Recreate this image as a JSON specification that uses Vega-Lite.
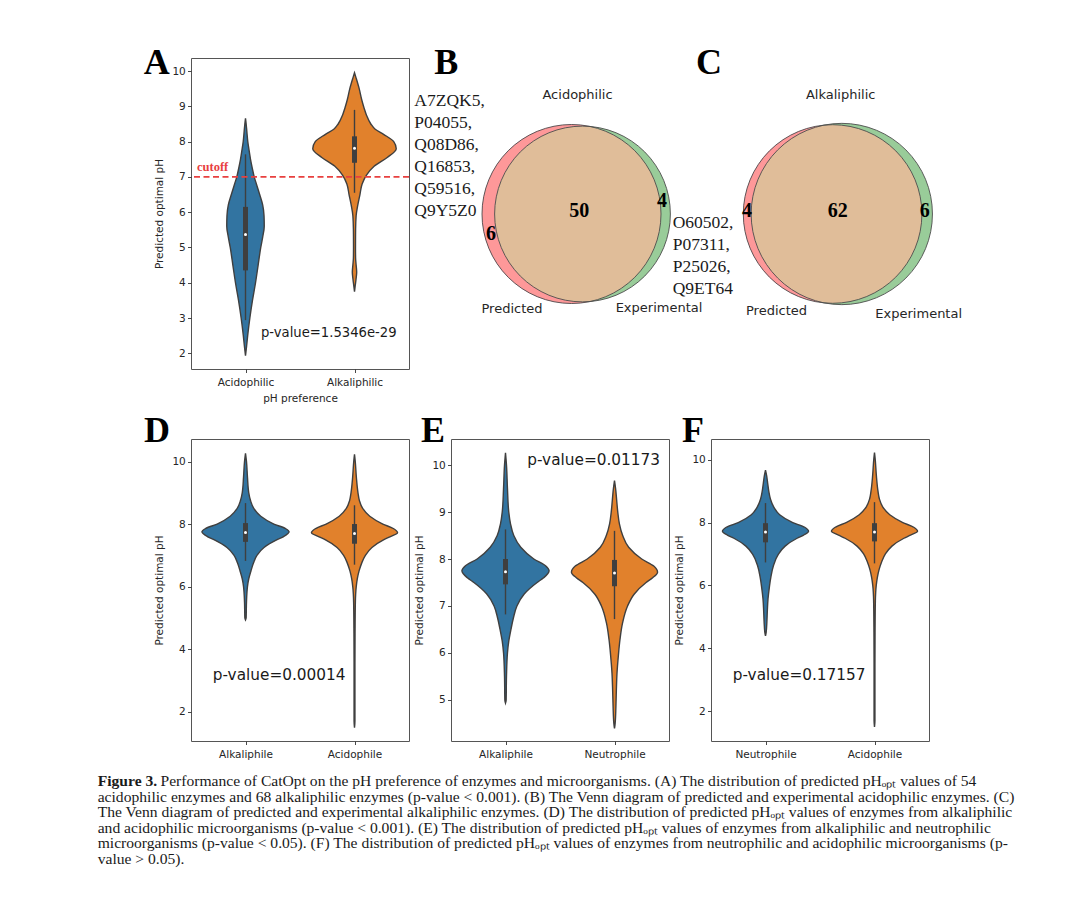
{
  "$schema": "https://vega.github.io/schema/vega-lite/v6.json",
  "background": "white",
  "padding": {"left": 97, "top": 44, "right": 5, "bottom": 5},
  "columns": 3,
  "spacing": {"row": 70, "column": 42},
  "bounds": "flush",
  "resolve": {"scale": {"size": "independent"}},
  "datasets": {
    "acA": [{"ph":1.93,"w":0},{"ph":2.2,"w":0.01},{"ph":2.5,"w":0.02},{"ph":3.0,"w":0.04},{"ph":3.5,"w":0.064},{"ph":4.0,"w":0.092},{"ph":4.5,"w":0.116},{"ph":5.0,"w":0.14},{"ph":5.3,"w":0.158},{"ph":5.6,"w":0.172},{"ph":5.9,"w":0.17},{"ph":6.2,"w":0.158},{"ph":6.5,"w":0.13},{"ph":6.8,"w":0.1},{"ph":7.0,"w":0.08},{"ph":7.25,"w":0.062},{"ph":7.5,"w":0.046},{"ph":7.75,"w":0.033},{"ph":8.0,"w":0.021},{"ph":8.3,"w":0.012},{"ph":8.5,"w":0.006},{"ph":8.66,"w":0}],
    "alA": [{"ph":3.75,"w":0},{"ph":3.9,"w":0.006},{"ph":4.1,"w":0.014},{"ph":4.3,"w":0.02},{"ph":4.5,"w":0.015},{"ph":4.7,"w":0.01},{"ph":5.0,"w":0.009},{"ph":5.5,"w":0.01},{"ph":5.9,"w":0.015},{"ph":6.2,"w":0.03},{"ph":6.5,"w":0.05},{"ph":6.8,"w":0.07},{"ph":7.05,"w":0.11},{"ph":7.3,"w":0.18},{"ph":7.55,"w":0.3},{"ph":7.8,"w":0.383},{"ph":8.0,"w":0.36},{"ph":8.2,"w":0.27},{"ph":8.35,"w":0.19},{"ph":8.5,"w":0.15},{"ph":8.75,"w":0.11},{"ph":8.96,"w":0.087},{"ph":9.2,"w":0.065},{"ph":9.5,"w":0.043},{"ph":9.8,"w":0.015},{"ph":9.95,"w":0}],
    "alk": [{"ph":4.93,"w":0},{"ph":5.0,"w":0.006},{"ph":5.5,"w":0.009},{"ph":6.0,"w":0.018},{"ph":6.25,"w":0.03},{"ph":6.5,"w":0.05},{"ph":6.75,"w":0.073},{"ph":7.0,"w":0.105},{"ph":7.25,"w":0.17},{"ph":7.5,"w":0.29},{"ph":7.6,"w":0.35},{"ph":7.75,"w":0.4},{"ph":7.85,"w":0.37},{"ph":8.0,"w":0.26},{"ph":8.25,"w":0.14},{"ph":8.5,"w":0.076},{"ph":8.75,"w":0.046},{"ph":9.0,"w":0.03},{"ph":9.5,"w":0.018},{"ph":10.0,"w":0.009},{"ph":10.26,"w":0}],
    "acid": [{"ph":1.49,"w":0},{"ph":1.7,"w":0.004},{"ph":2.5,"w":0.004},{"ph":3.5,"w":0.004},{"ph":4.5,"w":0.005},{"ph":5.5,"w":0.008},{"ph":6.0,"w":0.016},{"ph":6.25,"w":0.026},{"ph":6.5,"w":0.042},{"ph":6.75,"w":0.066},{"ph":7.0,"w":0.1},{"ph":7.25,"w":0.16},{"ph":7.5,"w":0.27},{"ph":7.6,"w":0.33},{"ph":7.72,"w":0.395},{"ph":7.85,"w":0.36},{"ph":8.0,"w":0.26},{"ph":8.25,"w":0.14},{"ph":8.5,"w":0.075},{"ph":8.75,"w":0.045},{"ph":9.0,"w":0.032},{"ph":9.5,"w":0.017},{"ph":10.0,"w":0.007},{"ph":10.23,"w":0}],
    "neut": [{"ph":4.39,"w":0},{"ph":4.5,"w":0.006},{"ph":4.86,"w":0.013},{"ph":5.2,"w":0.017},{"ph":5.57,"w":0.023},{"ph":5.93,"w":0.035},{"ph":6.28,"w":0.05},{"ph":6.64,"w":0.074},{"ph":7.0,"w":0.12},{"ph":7.25,"w":0.18},{"ph":7.5,"w":0.29},{"ph":7.6,"w":0.35},{"ph":7.72,"w":0.395},{"ph":7.85,"w":0.36},{"ph":8.0,"w":0.25},{"ph":8.25,"w":0.13},{"ph":8.5,"w":0.075},{"ph":8.75,"w":0.045},{"ph":9.0,"w":0.03},{"ph":9.25,"w":0.02},{"ph":9.5,"w":0.01},{"ph":9.67,"w":0}],
    "boxes": [
      {"panel":"A","grp":"Acidophilic","wlo":2.94,"q1":4.35,"med":5.37,"q3":6.15,"whi":7.64},
      {"panel":"A","grp":"Alkaliphilic","wlo":6.55,"q1":7.4,"med":7.81,"q3":8.15,"whi":8.9},
      {"panel":"D","grp":"Alkaliphile","wlo":6.82,"q1":7.43,"med":7.73,"q3":8.03,"whi":8.67},
      {"panel":"D","grp":"Acidophile","wlo":6.7,"q1":7.37,"med":7.7,"q3":8.0,"whi":8.6},
      {"panel":"E","grp":"Alkaliphile","wlo":6.82,"q1":7.46,"med":7.73,"q3":8.0,"whi":8.63},
      {"panel":"E","grp":"Neutrophile","wlo":6.72,"q1":7.42,"med":7.7,"q3":7.98,"whi":8.6},
      {"panel":"F","grp":"Neutrophile","wlo":6.73,"q1":7.37,"med":7.7,"q3":7.98,"whi":8.62},
      {"panel":"F","grp":"Acidophile","wlo":6.7,"q1":7.4,"med":7.7,"q3":7.98,"whi":8.65}
    ],
    "vennB": [
      {"set":"Predicted","n":56,"x":1.205,"y":1.56},
      {"set":"Experimental","n":54,"x":1.315,"y":1.56},
      {"k":"title","t":"Acidophilic","x":1.265,"y":0.373},
      {"k":"count","t":"50","x":1.283,"y":1.53},
      {"k":"count","t":"4","x":2.11,"y":1.43},
      {"k":"count","t":"6","x":0.40,"y":1.763},
      {"k":"set","t":"Predicted","x":0.61,"y":2.513},
      {"k":"set","t":"Experimental","x":2.08,"y":2.497},
      {"k":"ids","t":"A7ZQK5,\nP04055,\nQ08D86,\nQ16853,\nQ59516,\nQ9Y5Z0","x":-0.367,"y":0.34},
      {"k":"ids","t":"O60502,\nP07311,\nP25026,\nQ9ET64","x":2.217,"y":1.557},
      {"k":"letter","t":"B","x":-0.167,"y":0.163}
    ],
    "vennC": [
      {"set":"Predicted","n":66,"x":1.216,"y":1.56},
      {"set":"Experimental","n":68,"x":1.308,"y":1.56},
      {"k":"title","t":"Alkaliphilic","x":1.297,"y":0.373},
      {"k":"count","t":"4","x":0.36,"y":1.53},
      {"k":"count","t":"62","x":1.267,"y":1.53},
      {"k":"count","t":"6","x":2.137,"y":1.53},
      {"k":"set","t":"Predicted","x":0.655,"y":2.53},
      {"k":"set","t":"Experimental","x":2.077,"y":2.563},
      {"k":"letter","t":"C","x":-0.15,"y":0.163}
    ]
  },
  "concat": [
    {
      "width": 218, "height": 311,
      "view": {"stroke": "#555555", "strokeWidth": 1},
      "layer": [
        {
          "data": {"name": "acA"},
          "transform": [{"calculate": "0 - datum.w", "as": "lo"}, {"calculate": "0 + datum.w", "as": "hi"}],
          "mark": {"type": "area", "orient": "horizontal", "interpolate": "monotone", "fill": "#3274a1", "stroke": "#3f3f3f", "strokeWidth": 1.4},
          "encoding": {
            "y": {"field": "ph", "type": "quantitative", "scale": {"domain": [1.555, 10.37], "nice": false, "zero": false}, "axis": {"title": "Predicted optimal pH", "values": [2,3,4,5,6,7,8,9,10], "tickCount": 9, "labelOverlap": false, "format": "d"}},
            "x": {"field": "lo", "type": "quantitative", "stack": null, "scale": {"domain": [-0.5, 1.5], "nice": false, "zero": false}, "axis": {"title": "pH preference", "values": [0, 1], "labelExpr": "datum.value === 0 ? 'Acidophilic' : 'Alkaliphilic'"}},
            "x2": {"field": "hi"}
          }
        },
        {
          "data": {"name": "alA"},
          "transform": [{"calculate": "1 - datum.w", "as": "lo"}, {"calculate": "1 + datum.w", "as": "hi"}],
          "mark": {"type": "area", "orient": "horizontal", "interpolate": "monotone", "fill": "#e1812c", "stroke": "#3f3f3f", "strokeWidth": 1.4},
          "encoding": {
            "y": {"field": "ph", "type": "quantitative"},
            "x": {"field": "lo", "type": "quantitative", "stack": null},
            "x2": {"field": "hi"}
          }
        },
        {
          "data": {"name": "boxes"},
          "transform": [{"filter": "datum.panel === 'A'"}, {"calculate": "indexof(['Acidophilic','Alkaliphilic'], datum.grp)", "as": "pos"}],
          "layer": [
            {"mark": {"type": "rule", "color": "#3f3f3f", "strokeWidth": 1.4}, "encoding": {"x": {"field": "pos", "type": "quantitative"}, "y": {"field": "wlo", "type": "quantitative"}, "y2": {"field": "whi"}}},
            {"mark": {"type": "rule", "color": "#3f3f3f", "strokeWidth": 5}, "encoding": {"x": {"field": "pos", "type": "quantitative"}, "y": {"field": "q1", "type": "quantitative"}, "y2": {"field": "q3"}}},
            {"mark": {"type": "point", "shape": "circle", "filled": true, "color": "white", "opacity": 1, "size": 9}, "encoding": {"x": {"field": "pos", "type": "quantitative"}, "y": {"field": "med", "type": "quantitative"}}}
          ]
        },
        {
          "data": {"values": [{"c": 7}]},
          "mark": {"type": "rule", "color": "#e8403f", "strokeWidth": 1.6, "strokeDash": [6, 3.5]},
          "encoding": {"y": {"field": "c", "type": "quantitative"}}
        },
        {
          "data": {"values": [{"t": "cutoff"}]},
          "mark": {"type": "text", "align": "left", "baseline": "alphabetic", "font": "Liberation Serif", "fontSize": 12.5, "fontWeight": "bold", "color": "#e8403f"},
          "encoding": {"text": {"field": "t"}, "x": {"datum": -0.445}, "y": {"datum": 7.17}}
        },
        {
          "data": {"values": [{"t": "p-value=1.5346e-29"}]},
          "mark": {"type": "text", "align": "left", "baseline": "alphabetic", "font": "DejaVu Sans", "fontSize": 13.2, "color": "#1a1a1a"},
          "encoding": {"text": {"field": "t"}, "x": {"datum": 0.142}, "y": {"datum": 2.46}}
        },
        {
          "data": {"values": [{"t": "A"}]},
          "mark": {"type": "text", "align": "left", "baseline": "alphabetic", "font": "Liberation Serif", "fontSize": 36, "fontWeight": "bold", "color": "black"},
          "encoding": {"text": {"field": "t"}, "x": {"datum": -0.934}, "y": {"datum": 9.908}}
        }
      ]
    },
    {
      "width": 218, "height": 311,
      "data": {"name": "vennB"},
      "encoding": {
        "x": {"field": "x", "type": "quantitative", "scale": {"domain": [0, 2.18], "nice": false, "zero": false}, "axis": null},
        "y": {"field": "y", "type": "quantitative", "scale": {"domain": [0, 3.11], "reverse": true, "nice": false, "zero": false}, "axis": null}
      },
      "layer": [
        {"transform": [{"filter": "datum.set === 'Predicted'"}], "mark": {"type": "point", "shape": "circle", "filled": true, "color": "#ff5399", "opacity": 1, "strokeWidth": 0}, "encoding": {"size": {"field": "n", "type": "quantitative", "scale": {"domain": [0, 56], "range": [0, 32041]}, "legend": null}}},
        {"transform": [{"filter": "datum.set === 'Experimental'"}], "mark": {"type": "point", "shape": "circle", "filled": true, "color": "#99cc99", "opacity": 1, "strokeWidth": 0}, "encoding": {"size": {"field": "n", "type": "quantitative", "legend": null}}},
        {"transform": [{"filter": "datum.set === 'Predicted'"}], "mark": {"type": "point", "shape": "circle", "filled": true, "color": "#feb799", "opacity": 0.7, "strokeWidth": 0}, "encoding": {"size": {"field": "n", "type": "quantitative", "legend": null}}},
        {"transform": [{"filter": "isValid(datum.set)"}], "mark": {"type": "point", "shape": "circle", "filled": false, "color": "#4d4d4d", "strokeWidth": 0.9, "opacity": 1}, "encoding": {"size": {"field": "n", "type": "quantitative", "legend": null}}},
        {"transform": [{"filter": "datum.k === 'title' || datum.k === 'set'"}], "mark": {"type": "text", "font": "DejaVu Sans", "fontSize": 13, "color": "#262626", "align": "center", "baseline": "middle"}, "encoding": {"text": {"field": "t"}}},
        {"transform": [{"filter": "datum.k === 'count'"}], "mark": {"type": "text", "font": "Liberation Serif", "fontSize": 20, "fontWeight": "bold", "color": "black", "align": "center", "baseline": "middle"}, "encoding": {"text": {"field": "t"}}},
        {"transform": [{"filter": "datum.k === 'ids'"}], "mark": {"type": "text", "font": "Liberation Serif", "fontSize": 17.5, "color": "#1a1a1a", "align": "left", "baseline": "top", "lineBreak": "\n", "lineHeight": 22.06}, "encoding": {"text": {"field": "t"}}},
        {"transform": [{"filter": "datum.k === 'letter'"}], "mark": {"type": "text", "font": "Liberation Serif", "fontSize": 36, "fontWeight": "bold", "color": "black", "align": "left", "baseline": "alphabetic"}, "encoding": {"text": {"field": "t"}}}
      ]
    },
    {
      "width": 218, "height": 311,
      "data": {"name": "vennC"},
      "encoding": {
        "x": {"field": "x", "type": "quantitative", "scale": {"domain": [0, 2.18], "nice": false, "zero": false}, "axis": null},
        "y": {"field": "y", "type": "quantitative", "scale": {"domain": [0, 3.11], "reverse": true, "nice": false, "zero": false}, "axis": null}
      },
      "layer": [
        {"transform": [{"filter": "datum.set === 'Predicted'"}], "mark": {"type": "point", "shape": "circle", "filled": true, "color": "#ff5399", "opacity": 1, "strokeWidth": 0}, "encoding": {"size": {"field": "n", "type": "quantitative", "scale": {"domain": [0, 66], "range": [0, 31898]}, "legend": null}}},
        {"transform": [{"filter": "datum.set === 'Experimental'"}], "mark": {"type": "point", "shape": "circle", "filled": true, "color": "#99cc99", "opacity": 1, "strokeWidth": 0}, "encoding": {"size": {"field": "n", "type": "quantitative", "legend": null}}},
        {"transform": [{"filter": "datum.set === 'Predicted'"}], "mark": {"type": "point", "shape": "circle", "filled": true, "color": "#feb799", "opacity": 0.7, "strokeWidth": 0}, "encoding": {"size": {"field": "n", "type": "quantitative", "legend": null}}},
        {"transform": [{"filter": "isValid(datum.set)"}], "mark": {"type": "point", "shape": "circle", "filled": false, "color": "#4d4d4d", "strokeWidth": 0.9, "opacity": 1}, "encoding": {"size": {"field": "n", "type": "quantitative", "legend": null}}},
        {"transform": [{"filter": "datum.k === 'title' || datum.k === 'set'"}], "mark": {"type": "text", "font": "DejaVu Sans", "fontSize": 13, "color": "#262626", "align": "center", "baseline": "middle"}, "encoding": {"text": {"field": "t"}}},
        {"transform": [{"filter": "datum.k === 'count'"}], "mark": {"type": "text", "font": "Liberation Serif", "fontSize": 20, "fontWeight": "bold", "color": "black", "align": "center", "baseline": "middle"}, "encoding": {"text": {"field": "t"}}},
        {"transform": [{"filter": "datum.k === 'letter'"}], "mark": {"type": "text", "font": "Liberation Serif", "fontSize": 36, "fontWeight": "bold", "color": "black", "align": "left", "baseline": "alphabetic"}, "encoding": {"text": {"field": "t"}}}
      ]
    },
    {
      "width": 218, "height": 302,
      "view": {"stroke": "#555555", "strokeWidth": 1},
      "layer": [
        {
          "data": {"name": "alk"},
          "transform": [{"calculate": "0 - datum.w", "as": "lo"}, {"calculate": "0 + datum.w", "as": "hi"}],
          "mark": {"type": "area", "orient": "horizontal", "interpolate": "monotone", "fill": "#3274a1", "stroke": "#3f3f3f", "strokeWidth": 1.4},
          "encoding": {
            "y": {"field": "ph", "type": "quantitative", "scale": {"domain": [1.06, 10.72], "nice": false, "zero": false}, "axis": {"title": "Predicted optimal pH", "values": [2,4,6,8,10], "labelOverlap": false, "format": "d"}},
            "x": {"field": "lo", "type": "quantitative", "stack": null, "scale": {"domain": [-0.5, 1.5], "nice": false, "zero": false}, "axis": {"title": null, "values": [0, 1], "labelExpr": "datum.value === 0 ? 'Alkaliphile' : 'Acidophile'"}},
            "x2": {"field": "hi"}
          }
        },
        {
          "data": {"name": "acid"},
          "transform": [{"calculate": "1 - datum.w", "as": "lo"}, {"calculate": "1 + datum.w", "as": "hi"}],
          "mark": {"type": "area", "orient": "horizontal", "interpolate": "monotone", "fill": "#e1812c", "stroke": "#3f3f3f", "strokeWidth": 1.4},
          "encoding": {"y": {"field": "ph", "type": "quantitative"}, "x": {"field": "lo", "type": "quantitative", "stack": null}, "x2": {"field": "hi"}}
        },
        {
          "data": {"name": "boxes"},
          "transform": [{"filter": "datum.panel === 'D'"}, {"calculate": "indexof(['Alkaliphile','Acidophile'], datum.grp)", "as": "pos"}],
          "layer": [
            {"mark": {"type": "rule", "color": "#3f3f3f", "strokeWidth": 1.4}, "encoding": {"x": {"field": "pos", "type": "quantitative"}, "y": {"field": "wlo", "type": "quantitative"}, "y2": {"field": "whi"}}},
            {"mark": {"type": "rule", "color": "#3f3f3f", "strokeWidth": 5}, "encoding": {"x": {"field": "pos", "type": "quantitative"}, "y": {"field": "q1", "type": "quantitative"}, "y2": {"field": "q3"}}},
            {"mark": {"type": "point", "shape": "circle", "filled": true, "color": "white", "opacity": 1, "size": 9}, "encoding": {"x": {"field": "pos", "type": "quantitative"}, "y": {"field": "med", "type": "quantitative"}}}
          ]
        },
        {
          "data": {"values": [{"t": "p-value=0.00014"}]},
          "mark": {"type": "text", "align": "left", "baseline": "alphabetic", "font": "DejaVu Sans", "fontSize": 15.3, "color": "#1a1a1a"},
          "encoding": {"text": {"field": "t"}, "x": {"datum": -0.3}, "y": {"datum": 3}}
        },
        {
          "data": {"values": [{"t": "D"}]},
          "mark": {"type": "text", "align": "left", "baseline": "alphabetic", "font": "Liberation Serif", "fontSize": 36, "fontWeight": "bold", "color": "black"},
          "encoding": {"text": {"field": "t"}, "x": {"datum": -0.931}, "y": {"datum": 10.64}}
        }
      ]
    },
    {
      "width": 218, "height": 302,
      "view": {"stroke": "#555555", "strokeWidth": 1},
      "layer": [
        {
          "data": {"name": "alk"},
          "transform": [{"calculate": "0 - datum.w", "as": "lo"}, {"calculate": "0 + datum.w", "as": "hi"}],
          "mark": {"type": "area", "orient": "horizontal", "interpolate": "monotone", "fill": "#3274a1", "stroke": "#3f3f3f", "strokeWidth": 1.4},
          "encoding": {
            "y": {"field": "ph", "type": "quantitative", "scale": {"domain": [4.124, 10.556], "nice": false, "zero": false}, "axis": {"title": "Predicted optimal pH", "values": [5,6,7,8,9,10], "labelOverlap": false, "format": "d"}},
            "x": {"field": "lo", "type": "quantitative", "stack": null, "scale": {"domain": [-0.5, 1.5], "nice": false, "zero": false}, "axis": {"title": null, "values": [0, 1], "labelExpr": "datum.value === 0 ? 'Alkaliphile' : 'Neutrophile'"}},
            "x2": {"field": "hi"}
          }
        },
        {
          "data": {"name": "neut"},
          "transform": [{"calculate": "1 - datum.w", "as": "lo"}, {"calculate": "1 + datum.w", "as": "hi"}],
          "mark": {"type": "area", "orient": "horizontal", "interpolate": "monotone", "fill": "#e1812c", "stroke": "#3f3f3f", "strokeWidth": 1.4},
          "encoding": {"y": {"field": "ph", "type": "quantitative"}, "x": {"field": "lo", "type": "quantitative", "stack": null}, "x2": {"field": "hi"}}
        },
        {
          "data": {"name": "boxes"},
          "transform": [{"filter": "datum.panel === 'E'"}, {"calculate": "indexof(['Alkaliphile','Neutrophile'], datum.grp)", "as": "pos"}],
          "layer": [
            {"mark": {"type": "rule", "color": "#3f3f3f", "strokeWidth": 1.4}, "encoding": {"x": {"field": "pos", "type": "quantitative"}, "y": {"field": "wlo", "type": "quantitative"}, "y2": {"field": "whi"}}},
            {"mark": {"type": "rule", "color": "#3f3f3f", "strokeWidth": 5}, "encoding": {"x": {"field": "pos", "type": "quantitative"}, "y": {"field": "q1", "type": "quantitative"}, "y2": {"field": "q3"}}},
            {"mark": {"type": "point", "shape": "circle", "filled": true, "color": "white", "opacity": 1, "size": 9}, "encoding": {"x": {"field": "pos", "type": "quantitative"}, "y": {"field": "med", "type": "quantitative"}}}
          ]
        },
        {
          "data": {"values": [{"t": "p-value=0.01173"}]},
          "mark": {"type": "text", "align": "left", "baseline": "alphabetic", "font": "DejaVu Sans", "fontSize": 15.3, "color": "#1a1a1a"},
          "encoding": {"text": {"field": "t"}, "x": {"datum": 0.2}, "y": {"datum": 10}}
        },
        {
          "data": {"values": [{"t": "E"}]},
          "mark": {"type": "text", "align": "left", "baseline": "alphabetic", "font": "Liberation Serif", "fontSize": 36, "fontWeight": "bold", "color": "black"},
          "encoding": {"text": {"field": "t"}, "x": {"datum": -0.775}, "y": {"datum": 10.5}}
        }
      ]
    },
    {
      "width": 218, "height": 302,
      "view": {"stroke": "#555555", "strokeWidth": 1},
      "layer": [
        {
          "data": {"name": "neut"},
          "transform": [{"calculate": "0 - datum.w", "as": "lo"}, {"calculate": "0 + datum.w", "as": "hi"}],
          "mark": {"type": "area", "orient": "horizontal", "interpolate": "monotone", "fill": "#3274a1", "stroke": "#3f3f3f", "strokeWidth": 1.4},
          "encoding": {
            "y": {"field": "ph", "type": "quantitative", "scale": {"domain": [1.045, 10.66], "nice": false, "zero": false}, "axis": {"title": "Predicted optimal pH", "values": [2,4,6,8,10], "labelOverlap": false, "format": "d"}},
            "x": {"field": "lo", "type": "quantitative", "stack": null, "scale": {"domain": [-0.5, 1.5], "nice": false, "zero": false}, "axis": {"title": null, "values": [0, 1], "labelExpr": "datum.value === 0 ? 'Neutrophile' : 'Acidophile'"}},
            "x2": {"field": "hi"}
          }
        },
        {
          "data": {"name": "acid"},
          "transform": [{"calculate": "1 - datum.w", "as": "lo"}, {"calculate": "1 + datum.w", "as": "hi"}],
          "mark": {"type": "area", "orient": "horizontal", "interpolate": "monotone", "fill": "#e1812c", "stroke": "#3f3f3f", "strokeWidth": 1.4},
          "encoding": {"y": {"field": "ph", "type": "quantitative"}, "x": {"field": "lo", "type": "quantitative", "stack": null}, "x2": {"field": "hi"}}
        },
        {
          "data": {"name": "boxes"},
          "transform": [{"filter": "datum.panel === 'F'"}, {"calculate": "indexof(['Neutrophile','Acidophile'], datum.grp)", "as": "pos"}],
          "layer": [
            {"mark": {"type": "rule", "color": "#3f3f3f", "strokeWidth": 1.4}, "encoding": {"x": {"field": "pos", "type": "quantitative"}, "y": {"field": "wlo", "type": "quantitative"}, "y2": {"field": "whi"}}},
            {"mark": {"type": "rule", "color": "#3f3f3f", "strokeWidth": 5}, "encoding": {"x": {"field": "pos", "type": "quantitative"}, "y": {"field": "q1", "type": "quantitative"}, "y2": {"field": "q3"}}},
            {"mark": {"type": "point", "shape": "circle", "filled": true, "color": "white", "opacity": 1, "size": 9}, "encoding": {"x": {"field": "pos", "type": "quantitative"}, "y": {"field": "med", "type": "quantitative"}}}
          ]
        },
        {
          "data": {"values": [{"t": "p-value=0.17157"}]},
          "mark": {"type": "text", "align": "left", "baseline": "alphabetic", "font": "DejaVu Sans", "fontSize": 15.3, "color": "#1a1a1a"},
          "encoding": {"text": {"field": "t"}, "x": {"datum": -0.3}, "y": {"datum": 3}}
        },
        {
          "data": {"values": [{"t": "F"}]},
          "mark": {"type": "text", "align": "left", "baseline": "alphabetic", "font": "Liberation Serif", "fontSize": 36, "fontWeight": "bold", "color": "black"},
          "encoding": {"text": {"field": "t"}, "x": {"datum": -0.766}, "y": {"datum": 10.58}}
        }
      ]
    },
    {
      "width": 218, "height": 62.2,
      "encoding": {
        "x": {"datum": -0.428, "type": "quantitative", "scale": {"domain": [0, 1], "nice": false, "zero": false}, "axis": null},
        "y": {"field": "line", "type": "quantitative", "scale": {"domain": [2.93, 6.93], "reverse": true, "nice": false, "zero": false}, "axis": null},
        "text": {"field": "t"}
      },
      "layer": [
        {
          "data": {"values": [{"line": 1, "t": "Figure 3."}]},
          "mark": {"type": "text", "align": "left", "baseline": "middle", "font": "Liberation Serif", "fontSize": 15.6, "fontWeight": "bold", "color": "#1a1a1a"}
        },
        {
          "data": {"values": [{"line": 1, "t": "Performance of CatOpt on the pH preference of enzymes and microorganisms. (A) The distribution of predicted pHₒₚₜ values of 54"}]},
          "mark": {"type": "text", "align": "left", "baseline": "middle", "font": "Liberation Serif", "fontSize": 15.6, "color": "#1a1a1a"},
          "encoding": {"x": {"datum": -0.14, "type": "quantitative", "axis": null}}
        },
        {
          "data": {"values": [
            {"line": 2, "t": "acidophilic enzymes and 68 alkaliphilic enzymes (p-value < 0.001). (B) The Venn diagram of predicted and experimental acidophilic enzymes. (C)"},
            {"line": 3, "t": "The Venn diagram of predicted and experimental alkaliphilic enzymes. (D) The distribution of predicted pHₒₚₜ values of enzymes from alkaliphilic"},
            {"line": 4, "t": "and acidophilic microorganisms (p-value < 0.001). (E) The distribution of predicted pHₒₚₜ values of enzymes from alkaliphilic and neutrophilic"},
            {"line": 5, "t": "microorganisms (p-value < 0.05). (F) The distribution of predicted pHₒₚₜ values of enzymes from neutrophilic and acidophilic microorganisms (p-"},
            {"line": 6, "t": "value > 0.05)."}
          ]},
          "mark": {"type": "text", "align": "left", "baseline": "middle", "font": "Liberation Serif", "fontSize": 15.6, "color": "#1a1a1a"}
        }
      ]
    }
  ],
  "config": {
    "view": {"stroke": null},
    "axis": {"grid": false, "domain": false, "labelOverlap": false, "labelFont": "DejaVu Sans", "labelFontSize": 10.5, "labelColor": "#262626", "titleFont": "DejaVu Sans", "titleFontSize": 10.5, "titleFontWeight": "normal", "titleColor": "#262626", "tickColor": "#333333", "tickWidth": 0.9, "tickSize": 3.5},
    "axisY": {"labelPadding": 2.2, "titlePadding": 7.5},
    "axisX": {"labelPadding": 4.5, "titlePadding": 5.5, "labelAngle": 0}
  }
}
